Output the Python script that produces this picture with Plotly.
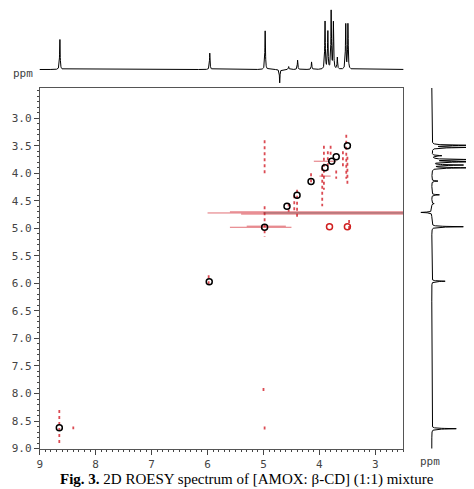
import numpy as np
import plotly.graph_objects as go

# 1D proton spectrum peaks (ppm, relative height)
peak_ppm = [8.64, 5.96, 4.97, 4.71, 4.55, 4.39, 4.14, 3.90, 3.85, 3.79, 3.75, 3.68, 3.53, 3.49]
peak_h   = [0.52, 0.28, 0.66, -0.23, 0.05, 0.16, 0.13, 0.82, 0.65, 1.0, 0.8, 0.2, 0.78, 0.78]

# red ROESY streaks: x ppm, y start, y end (vertical)
vx  = [4.98, 4.98, 5.98, 8.65, 3.52, 3.50, 3.58, 3.80, 3.85, 3.92, 3.95, 4.15, 4.40, 4.45, 4.55, 3.70, 5.0, 8.4, 4.98, 3.47]
vy0 = [3.40, 4.60, 5.85, 8.30, 3.30, 3.70, 3.60, 3.50, 3.60, 3.50, 3.90, 4.00, 4.30, 4.40, 4.55, 3.95, 7.90, 8.60, 8.60, 4.85]
vy1 = [4.00, 5.15, 6.05, 8.95, 4.10, 4.20, 3.90, 3.70, 3.95, 4.30, 4.60, 4.20, 4.80, 4.70, 4.70, 4.10, 8.00, 8.65, 8.70, 5.05]
# red horizontal streaks: y ppm, x start, x end
hy  = [4.72, 4.70, 4.74, 4.98, 4.96, 3.78, 4.05]
hx0 = [6.00, 5.60, 5.40, 5.60, 5.30, 4.10, 4.00]
hx1 = [2.50, 2.50, 2.50, 4.50, 4.60, 3.70, 3.80]
# black diagonal / strong contours
cx = [3.50, 3.70, 3.78, 3.90, 4.15, 4.40, 4.58, 4.98, 5.97, 8.65, 3.50, 3.82]
cy = [3.50, 3.70, 3.78, 3.90, 4.15, 4.40, 4.60, 4.98, 5.97, 8.62, 4.97, 4.97]
cc = ["black"]*10 + ["#d02020"]*2

x_ticks = [9, 8, 7, 6, 5, 4, 3]
y_ticks = [3.0, 3.5, 4.0, 4.5, 5.0, 5.5, 6.0, 6.5, 7.0, 7.5, 8.0, 8.5, 9.0]

grid = np.linspace(2.4, 9.1, 4000)
spec = np.zeros_like(grid)
for p, h in zip(peak_ppm, peak_h):
    w = 0.006
    spec += h * w**2 / ((grid - p)**2 + w**2)

fig = go.Figure()
red = "rgba(210,30,40,0.8)"

def segs(a, b0, b1):
    A, B = [], []
    for v, s, e in zip(a, b0, b1):
        A += [v, v, None]; B += [s, e, None]
    return A, B

X, Y = segs(vx, vy0, vy1)
fig.add_trace(go.Scatter(x=X, y=Y, mode="lines", line=dict(color=red, width=1.8, dash="dot"), xaxis="x", yaxis="y"))
Yh, Xh = segs(hy, hx0, hx1)
fig.add_trace(go.Scatter(x=Xh, y=Yh, mode="lines", line=dict(color=red, width=0.8), xaxis="x", yaxis="y"))
fig.add_trace(go.Scatter(x=[5.0, 2.5], y=[4.72, 4.72], mode="lines", line=dict(color="rgba(60,60,60,0.6)", width=0.8), xaxis="x", yaxis="y"))
fig.add_trace(go.Scatter(x=cx, y=cy, mode="markers",
                         marker=dict(symbol="circle-open", size=6, color=cc, line=dict(width=1.5, color=cc)),
                         xaxis="x", yaxis="y"))
fig.add_trace(go.Scatter(x=grid, y=spec, mode="lines", line=dict(color="black", width=1), xaxis="x", yaxis="y2"))
fig.add_trace(go.Scatter(x=spec, y=grid, mode="lines", line=dict(color="black", width=1), xaxis="x3", yaxis="y"))

tf = dict(family="DejaVu Sans Mono", size=11, color="#444")
fig.update_layout(
    width=474, height=489, margin=dict(l=0, r=0, t=0, b=0),
    paper_bgcolor="white", plot_bgcolor="white", showlegend=False,
    xaxis=dict(domain=[0.061, 0.833], range=[9.0, 2.5], tickvals=x_ticks, ticktext=[str(t) for t in x_ticks],
               ticks="outside", ticklen=5, showgrid=False, zeroline=False, showline=True, linecolor="#555",
               mirror=True, tickfont=tf, minor=dict(ticks="outside", ticklen=2, dtick=0.1)),
    yaxis=dict(domain=[0.086, 0.834], range=[9.0, 2.45], tickvals=y_ticks, ticktext=[f"{t:.1f}" for t in y_ticks],
               ticks="outside", ticklen=5, showgrid=False, zeroline=False, showline=True, linecolor="#555",
               mirror=True, tickfont=tf, minor=dict(ticks="outside", ticklen=2, dtick=0.1)),
    yaxis2=dict(domain=[0.842, 1.0], range=[-0.25, 1.05], visible=False),
    xaxis3=dict(domain=[0.868, 1.0], range=[-0.25, 1.05], visible=False),
)
fig.add_annotation(text="ppm", x=0.0, y=0.846, xref="paper", yref="paper", xanchor="left", yanchor="bottom",
                   showarrow=False, font=tf)
fig.add_annotation(text="ppm", x=0.865, y=0.086, xref="paper", yref="paper", xanchor="left", yanchor="top",
                   showarrow=False, font=tf, yshift=-4)
fig.add_annotation(text="<b>Fig. 3.</b> 2D ROESY spectrum of [AMOX: β-CD] (1:1) mixture",
                   x=0.5, y=0.0, xref="paper", yref="paper", xanchor="center", yanchor="bottom",
                   showarrow=False, font=dict(family="Liberation Serif", size=15, color="black"))
fig.write_html("out.html")
